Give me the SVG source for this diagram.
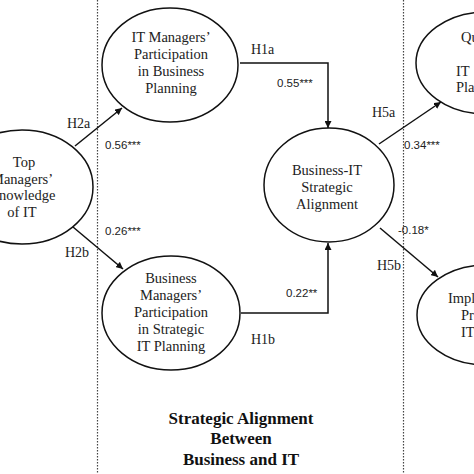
<svg xmlns="http://www.w3.org/2000/svg" width="474" height="474" viewBox="0 0 474 474">
<style>
.node ellipse{fill:#fff;stroke:#111;stroke-width:1.5}
.nt{font-family:"Liberation Serif","Times New Roman",serif;font-size:14.5px;fill:#222;text-anchor:middle}
.ns{font-family:"Liberation Serif","Times New Roman",serif;font-size:14.5px;fill:#222}
.lbl{font-family:"Liberation Serif","Times New Roman",serif;font-size:14px;fill:#222}
.num{font-family:"Liberation Sans",Arial,sans-serif;font-size:11.5px;fill:#222}
.con{fill:none;stroke:#111;stroke-width:1.5}
.div{stroke:#444;stroke-width:1.2;stroke-dasharray:1.5 1.5}
.title{font-family:"Liberation Serif","Times New Roman",serif;font-size:17px;font-weight:bold;fill:#111;text-anchor:middle}
</style>
<defs>
<marker id="ah" viewBox="0 0 10 10" refX="10" refY="5" markerWidth="7" markerHeight="7" markerUnits="userSpaceOnUse" orient="auto">
<path d="M0,0 L10,5 L0,10 Z" fill="#111"/>
</marker>
</defs>
<rect width="474" height="474" fill="#fff"/>
<g id="dividers">
<line class="div" x1="97.5" y1="0" x2="97.5" y2="474"/>
<line class="div" x1="403.5" y1="0" x2="403.5" y2="474"/>
</g>
<g id="connectors">
<path class="con" d="M75,146 L122,108" marker-end="url(#ah)"/>
<path class="con" d="M73,227 L123,269" marker-end="url(#ah)"/>
<path class="con" d="M240,63 H328 V128" marker-end="url(#ah)"/>
<path class="con" d="M241,313 H328 V243" marker-end="url(#ah)"/>
<path class="con" d="M379,144 L441,102" marker-end="url(#ah)"/>
<path class="con" d="M380,228 L438,277" marker-end="url(#ah)"/>
</g>
<g id="labels">
<text class="lbl" x="67" y="128">H2a</text>
<text class="num" x="105" y="149">0.56***</text>
<text class="num" x="105" y="235">0.26***</text>
<text class="lbl" x="65" y="257">H2b</text>
<text class="lbl" x="251" y="54">H1a</text>
<text class="num" x="277" y="87">0.55***</text>
<text class="num" x="286" y="297">0.22**</text>
<text class="lbl" x="251" y="344">H1b</text>
<text class="lbl" x="372" y="117">H5a</text>
<text class="num" x="404" y="149">0.34***</text>
<text class="num" x="398" y="234">-0.18*</text>
<text class="lbl" x="377" y="270">H5b</text>
</g>
<g id="top-managers" class="node">
<ellipse cx="22" cy="187" rx="71" ry="57"/>
<text class="nt" x="24" y="167">Top</text>
<text class="nt" x="22" y="184">Managers’</text>
<text class="nt" x="22" y="200">Knowledge</text>
<text class="nt" x="22" y="217">of IT</text>
</g>
<g id="it-managers" class="node">
<ellipse cx="170" cy="65" rx="68" ry="57"/>
<text class="nt" x="171" y="42">IT Managers’</text>
<text class="nt" x="171" y="59">Participation</text>
<text class="nt" x="171" y="76">in Business</text>
<text class="nt" x="171" y="93">Planning</text>
</g>
<g id="alignment" class="node">
<ellipse cx="329" cy="185" rx="65" ry="57"/>
<text class="nt" x="327" y="175">Business-IT</text>
<text class="nt" x="327" y="192">Strategic</text>
<text class="nt" x="327" y="209">Alignment</text>
</g>
<g id="business-managers" class="node">
<ellipse cx="171" cy="313" rx="69" ry="57"/>
<text class="nt" x="171" y="283">Business</text>
<text class="nt" x="171" y="300">Managers’</text>
<text class="nt" x="171" y="317">Participation</text>
<text class="nt" x="171" y="334">in Strategic</text>
<text class="nt" x="171" y="351">IT Planning</text>
</g>
<g id="quality" class="node">
<ellipse cx="486" cy="63" rx="70" ry="51"/>
<text class="ns" x="461" y="42">Quality</text>
<text class="ns" x="456" y="76">IT</text>
<text class="ns" x="456" y="92">Planning</text>
</g>
<g id="implementation" class="node">
<ellipse cx="486" cy="315" rx="69" ry="50"/>
<text class="ns" x="448" y="303">Implementation</text>
<text class="ns" x="461" y="320">Problems</text>
<text class="ns" x="461" y="337">IT</text>
</g>
<g id="title">
<text class="title" x="241" y="424">Strategic Alignment</text>
<text class="title" x="241" y="444">Between</text>
<text class="title" x="241" y="465">Business and IT</text>
</g>
</svg>
